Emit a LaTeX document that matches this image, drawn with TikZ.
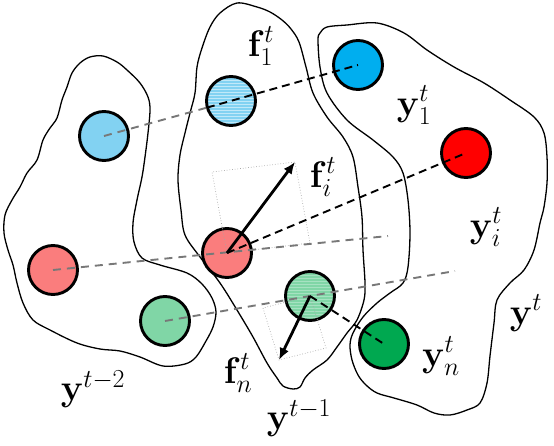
\RequirePackage{fix-cm}
\documentclass[tikz,border=0pt]{standalone}
\usetikzlibrary{arrows.meta,calc}
\definecolor{lblue}{RGB}{130,210,242}
\definecolor{sblue}{RGB}{0,174,239}
\definecolor{lred}{RGB}{250,125,125}
\definecolor{lgreen}{RGB}{128,214,166}
\definecolor{dgreen}{RGB}{0,168,80}
\definecolor{dgray}{RGB}{120,120,120}
\tikzset{
  ball/.style={circle, draw=black, line width=2.9pt, minimum size=49pt, inner sep=0pt},
  stripes/.style={path picture={
      \foreach \k in {-27,-24,...,27}
        \draw[#1, line width=0.5pt] ($(path picture bounding box.center)+(-30,\k)$) -- ++(60,0);}},
  blob/.style={draw=black, line width=1.3pt},
  graydash/.style={draw=dgray, line width=1.9pt, dash pattern=on 8pt off 6pt},
  blackdash/.style={draw=black, line width=1.9pt, dash pattern=on 8pt off 5pt},
  vec/.style={draw=black, line width=2.8pt, -{Latex[length=12pt,width=10pt]}},
  para/.style={draw=black!35, line width=0.7pt, dotted},
  lab/.style={font=\fontsize{37}{42}\selectfont, inner sep=0pt}
}
\begin{document}
\begin{tikzpicture}[x=1pt,y=-1pt]
\useasboundingbox (0,0) rectangle (554,446);
% blobs
\draw[blob] plot[smooth cycle, tension=0.55] coordinates {
(80,63)(90,57)(103,56)(117,62)(127,70)(140,83)(148,97)(150,110)(148,133)(145,157)(142,177)(137,200)(133,223)(134,242)(142,258)(160,265)(187,273)(202,284)(212,298)(216,312)(213,327)(206,341)(196,357)(185,364)(163,366)(140,357)(120,351)(100,349)(77,343)(50,330)(33,320)(23,303)(17,283)(13,265)(8,250)(4,233)(5,215)(12,200)(20,187)(27,173)(37,160)(43,140)(50,128)(57,118)(62,100)(67,87)(72,73)};
\draw[blob] plot[smooth cycle, tension=0.55] coordinates {
(237,3)(257,7)(270,12)(282,20)(291,29)(299,42)(306,67)(313,93)(327,117)(343,137)(353,157)(358,187)(362,217)(363,250)(365,283)(364,300)(357,320)(347,333)(337,347)(327,360)(313,370)(305,378)(300,387)(293,389)(283,386)(277,378)(267,363)(253,337)(237,310)(220,283)(200,257)(185,235)(181,210)(178,180)(180,155)(185,133)(190,113)(195,93)(197,67)(202,48)(210,27)(220,13)};
\draw[blob] plot[smooth cycle, tension=0.55] coordinates {
(320,33)(327,27)(347,25)(377,23)(404,33)(427,50)(454,67)(484,83)(510,100)(534,117)(544,133)(547,157)(547,183)(544,207)(540,223)(534,250)(524,270)(510,283)(497,300)(494,323)(490,356)(487,383)(480,403)(467,410)(450,415)(434,413)(417,405)(394,398)(377,393)(366,385)(358,375)(352,360)(350,345)(353,333)(363,317)(377,303)(390,293)(403,283)(408,267)(410,233)(408,200)(403,173)(393,157)(373,140)(347,120)(327,93)(320,67)(318,40)};
% circles
\node[ball, fill=lblue] (lb) at (104,136) {};
\node[ball, fill=lred] (lr) at (53,270) {};
\node[ball, fill=lgreen] (lg) at (165,321) {};
\node[ball, fill=lblue, stripes=white!50!lblue] (f1) at (231,101) {};
\node[ball, fill=lred] (fi) at (227,253) {};
\node[ball, fill=lgreen, stripes=white!30!lgreen] (fn) at (310,296) {};
\node[ball, fill=sblue] (y1) at (358,65) {};
\node[ball, fill=red] (yi) at (466,153) {};
\node[ball, fill=dgreen] (yn) at (384,344) {};
% helper coordinates
\coordinate (b1) at ($(lb.center)!0.81!(f1.center)$);
\coordinate (gr) at (388,236);
\coordinate (gg) at (455,271);
\coordinate (fiu) at (212,172);
\coordinate (fitip) at (295,162);
\coordinate (fiv) at (310,243);
\coordinate (fnu) at (263,308);
\coordinate (fntip) at (279,360);
\coordinate (fnv) at (326,348);
% dotted parallelograms
\draw[para] (fi.center) -- (fiu) -- (fitip) -- (fiv) -- cycle;
\draw[para] (fn.center) -- (fnu) -- (fntip) -- (fnv) -- cycle;
% dashed correspondences
\draw[graydash] (lb.center) -- (b1);
\draw[blackdash] (b1) -- (y1.center);
\draw[graydash] (lr.center) -- (gr);
\draw[blackdash] (fi.center) -- (yi.center);
\draw[graydash] (lg.center) -- (gg);
\draw[blackdash] (fn.center) -- (yn.center);
% flow vectors
\draw[vec] (fi.center) -- (fitip);
\draw[vec] (fn.center) -- (fntip);
% labels
\node[lab] (t1) at (261,46) {$\mathbf{f}_1^t$};
\node[lab] (t2) at (414,105) {$\mathbf{y}_1^t$};
\node[lab] (t3) at (323,177) {$\mathbf{f}_i^t$};
\node[lab] (t4) at (486,227) {$\mathbf{y}_i^t$};
\node[lab] (t5) at (526,313) {$\mathbf{y}^t$};
\node[lab] (t6) at (441,356) {$\mathbf{y}_n^t$};
\node[lab] (t7) at (238,373) {$\mathbf{f}_n^t$};
\node[lab] (t8) at (299,418) {$\mathbf{y}^{t-1}$};
\node[lab] (t9) at (93,389) {$\mathbf{y}^{t-2}$};
\end{tikzpicture}
\end{document}
